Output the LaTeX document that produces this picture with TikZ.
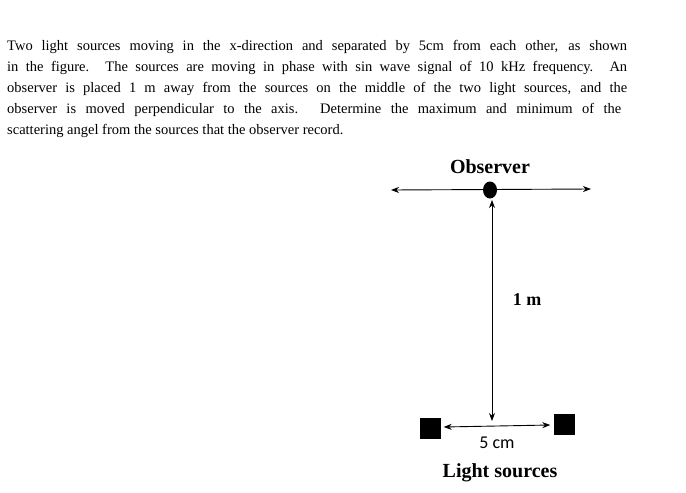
\documentclass[tikz,border=0pt]{standalone}
\usepackage{fontspec}
\setmainfont{Liberation Serif}
\newfontfamily\calib{Carlito}
\usetikzlibrary{arrows.meta,shapes.geometric,calc}
\begin{document}
\begin{tikzpicture}[x=1pt,y=-1pt,
  txt/.style={anchor=west,inner sep=0pt,font=\fontsize{14.5}{16}\selectfont},
  darr/.style={line width=0.9pt,{Stealth[length=8pt,width=6pt]}-{Stealth[length=8pt,width=6pt]}},
  src/.style={fill=black,minimum size=21pt,inner sep=0pt}]
\useasboundingbox (0,0) rectangle (686,493);
\node[txt] (l1) at (7,47) {\makebox[620pt][s]{Two light sources moving in the x-direction and separated by 5cm from each other, as shown}};
\node[txt] (l2) at (7,68) {\makebox[620pt][s]{in the figure. The sources are moving in phase with sin wave signal of 10 kHz frequency. An}};
\node[txt] (l3) at (7,89) {\makebox[620pt][s]{observer is placed 1 m away from the sources on the middle of the two light sources, and the}};
\node[txt] (l4) at (7,110) {\makebox[614pt][s]{observer is moved perpendicular to the axis. Determine the maximum and minimum of the}};
\node[txt] (l5) at (7,131) {scattering angel from the sources that the observer record.};
\node[font=\fontsize{20}{22}\selectfont\bfseries] (obs) at (490,167) {Observer};
\coordinate (hl) at (391,190);
\coordinate (hr) at (591,189);
\draw[darr] (hl) -- (hr);
\node[ellipse,fill=black,minimum width=14pt,minimum height=17pt,inner sep=0pt] (dot) at (490,190) {};
\coordinate (vb) at (492,421);
\coordinate (vt) at (492,200);
\draw[darr] (vb) -- (vt);
\node[font=\fontsize{18}{20}\selectfont\bfseries] (dist) at (527,300) {1 m};
\node[src] (s1) at (430,428) {};
\node[src] (s2) at (564,424) {};
\draw[darr] ($(s1.east)+(3,-1)$) -- ($(s2.west)+(-3,1)$);
\node[font=\calib\fontsize{18}{20}\selectfont] (cm) at (497,443) {5 cm};
\node[font=\fontsize{20}{22}\selectfont\bfseries] (ls) at (500,473) {Light sources};
\end{tikzpicture}
\end{document}
